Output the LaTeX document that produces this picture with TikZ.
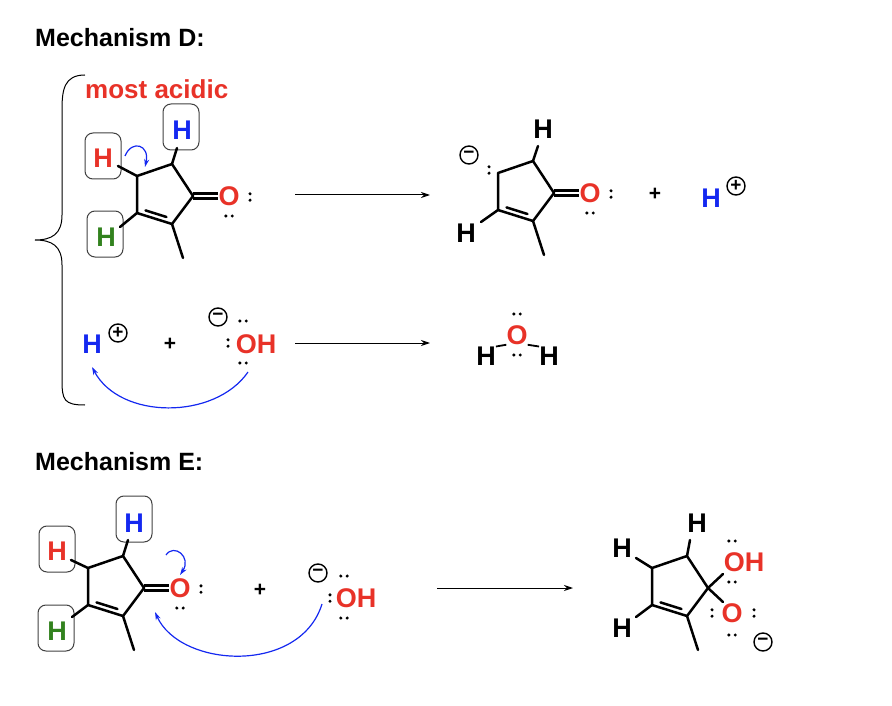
\documentclass[tikz,border=0pt]{standalone}
\usepackage{fontspec}
\setmainfont{Liberation Sans}
\usetikzlibrary{arrows.meta}
\definecolor{cred}{RGB}{232,50,40}
\definecolor{cblue}{RGB}{20,40,240}
\definecolor{cgreen}{RGB}{50,130,30}
\tikzset{
 bond/.style={line width=2.5pt,line join=round,line cap=round},
 atom/.style={font=\fontsize{27}{27}\selectfont\bfseries,inner sep=0pt},
 hbox/.style={draw=black!75,line width=1pt,rounded corners=8pt,minimum width=36pt,minimum height=46pt,inner sep=0pt},
 chg/.style={circle,draw,line width=1.4pt,minimum size=18pt,inner sep=0pt,font=\fontsize{19}{19}\selectfont\bfseries},
 rxn/.style={line width=1pt,-{Stealth[length=9pt,width=6pt]}},
 push/.style={cblue,line width=1.2pt,-{Stealth[length=8pt,width=5pt]}},
 plus/.style={font=\fontsize{21}{21}\selectfont\bfseries,inner sep=0pt},
 title/.style={font=\fontsize{25}{25}\selectfont\bfseries,anchor=west,inner sep=0pt}
}
\newcommand\lph[1]{\fill[shift={(#1)}] (-3.2,0) circle (1.7) (3.2,0) circle (1.7);}
\newcommand\lpv[1]{\fill[shift={(#1)}] (0,-3.2) circle (1.7) (0,3.2) circle (1.7);}
\newcommand\ringat[2]{%
\begin{scope}[shift={(#2)}]
\coordinate (#1c1) at (0,0);
\coordinate (#1c2) at (35,-12);
\coordinate (#1c3) at (56,20);
\coordinate (#1c4) at (35,48);
\coordinate (#1c5) at (0,37);
\coordinate (#1me) at (46,82);
\coordinate (#1i1) at (8.5,34.4);
\coordinate (#1i2) at (29.5,41);
\draw[bond] (#1c1)--(#1c2)--(#1c3)--(#1c4)--(#1c5)--cycle;
\draw[bond] (#1c4)--(#1me);
\draw[bond] (#1i1)--(#1i2);
\end{scope}}
\begin{document}
\begin{tikzpicture}[x=1pt,y=-1pt]
\useasboundingbox (0,0) rectangle (892,706);
\node[title] (tD) at (35,38) {Mechanism D:};
\node[title,cred,font=\fontsize{26}{26}\selectfont\bfseries] (acid) at (85,89) {most acidic};
% brace
\draw[line width=1pt] (85,75) .. controls (64,75) and (62,90) .. (62,110) -- (62,215) .. controls (62,234) and (52,240) .. (35,240) .. controls (52,240) and (62,246) .. (62,265) -- (62,380) .. controls (62,400) and (64,405) .. (85,405);
% molecule 1
\ringat{a}{137,176}
\node[atom,cred] (aO) at (229,196) {O};
\draw[bond,line cap=butt] ([yshift=-2.6]ac3) -- ([yshift=-2.6]aO.west);
\draw[bond,line cap=butt] ([yshift=2.6]ac3) -- ([yshift=2.6]aO.west);
\lpv{250,197}\lph{229,216}
\node[hbox] (bHr) at (103,156) {};\node[atom,cred] (aHr) at (103,158) {H};
\node[hbox] (bHb) at (181,127) {};\node[atom,cblue] (aHb) at (182,130) {H};
\node[hbox] (bHg) at (105,234) {};\node[atom,cgreen] (aHg) at (106,237) {H};
\coordinate (aHr1) at (118,166);\coordinate (aHb1) at (177,148);\coordinate (aHg1) at (120,227);
\draw[bond] (ac1)--(aHr1);\draw[bond] (ac2)--(aHb1);\draw[bond] (ac5)--(aHg1);
\coordinate (sa1) at (125,156);\coordinate (sa2) at (145,167);
\draw[push] (sa1) .. controls (132,139) and (150,145) .. (sa2);
% arrow 1
\coordinate (r1a) at (295,195);\coordinate (r1b) at (430,195);
\draw[rxn] (r1a)--(r1b);
% molecule 2
\ringat{b}{498,173}
\node[atom,cred] (bO) at (590,193) {O};
\draw[bond,line cap=butt] ([yshift=-2.6]bc3) -- ([yshift=-2.6]bO.west);
\draw[bond,line cap=butt] ([yshift=2.6]bc3) -- ([yshift=2.6]bO.west);
\lpv{611,194}\lph{590,213}
\node[atom] (bHt) at (543,129) {H};\node[atom] (bHl) at (466,233) {H};
\coordinate (bHt1) at (538,146);\coordinate (bHl1) at (481,222);
\draw[bond] (bc2)--(bHt1);\draw[bond] (bc5)--(bHl1);
\node[chg] (bm) at (469,155) {−};\lpv{489,170}
\node[plus] (p1) at (655,194) {+};
\node[atom,cblue] (Hp1) at (711,198) {H};\node[chg] (Hp1c) at (736,186) {+};
% row 2
\node[atom,cblue] (Hp2) at (92,344) {H};\node[chg] (Hp2c) at (118,333) {+};
\node[plus] (p2) at (170,344) {+};
\node[atom,cred] (OH1) at (256,344) {OH};\node[chg] (OHc) at (218,317) {−};
\lph{243,321}\lpv{228,343}\lph{243,363}
\coordinate (sb1) at (248,372);\coordinate (sb2) at (92,367);
\draw[push] (sb1) .. controls (215,420) and (120,420) .. (sb2);
\coordinate (r2a) at (295,343);\coordinate (r2b) at (430,343);
\draw[rxn] (r2a)--(r2b);
\node[atom,cred] (wO) at (517,335) {O};
\node[atom] (wH1) at (486,356) {H};\node[atom] (wH2) at (549,356) {H};
\draw[line width=1.8pt] (wH1.north east) -- (wO.south west);
\draw[line width=1.8pt] (wH2.north west) -- (wO.south east);
\lph{517,314}\lph{517,355}
% Mechanism E
\node[title] (tE) at (35,462) {Mechanism E:};
\ringat{c}{88,568}
\node[atom,cred] (cO) at (180,588) {O};
\draw[bond,line cap=butt] ([yshift=-2.6]cc3) -- ([yshift=-2.6]cO.west);
\draw[bond,line cap=butt] ([yshift=2.6]cc3) -- ([yshift=2.6]cO.west);
\lpv{201,589}\lph{180,608}
\node[hbox] (cbHr) at (57,549) {};\node[atom,cred] (cHr) at (57,551) {H};
\node[hbox] (cbHb) at (134,519) {};\node[atom,cblue] (cHb) at (134,523) {H};
\node[hbox] (cbHg) at (56,628) {};\node[atom,cgreen] (cHg) at (57,631) {H};
\coordinate (cHr1) at (71,560);\coordinate (cHb1) at (128,540);\coordinate (cHg1) at (72,617);
\draw[bond] (cc1)--(cHr1);\draw[bond] (cc2)--(cHb1);\draw[bond] (cc5)--(cHg1);
\coordinate (sc1) at (166,555);\coordinate (sc2) at (180,575);
\draw[push] (sc1) .. controls (174,543) and (192,557) .. (sc2);
\node[plus] (p3) at (260,590) {+};
\node[atom,cred] (OH2) at (356,598) {OH};\node[chg] (OH2c) at (318,573) {−};
\lph{344,576}\lpv{330,598}\lph{344,618}
\coordinate (sd1) at (322,604);\coordinate (sd2) at (155,612);
\draw[push] (sd1) .. controls (300,675) and (180,668) .. (sd2);
\coordinate (r3a) at (437,588);\coordinate (r3b) at (573,588);
\draw[rxn] (r3a)--(r3b);
% molecule 4
\ringat{d}{652,568}
\node[atom,cred] (dOH) at (744,562) {OH};
\node[atom,cred] (dO) at (732,613) {O};
\draw[bond] (dc3) -- (723,574);\draw[bond] (dc3) -- (723,602);
\lph{732,541}\lph{732,582}\lpv{712,613}\lpv{754,613}\lph{732,635}
\node[chg] (dm) at (763,642) {−};
\node[atom] (dHt) at (697,523) {H};\node[atom] (dHl) at (622,548) {H};\node[atom] (dHb) at (622,628) {H};
\coordinate (dHt1) at (690,540);\coordinate (dHl1) at (636,558);\coordinate (dHb1) at (636,617);
\draw[bond] (dc2)--(dHt1);\draw[bond] (dc1)--(dHl1);\draw[bond] (dc5)--(dHb1);
\end{tikzpicture}
\end{document}
